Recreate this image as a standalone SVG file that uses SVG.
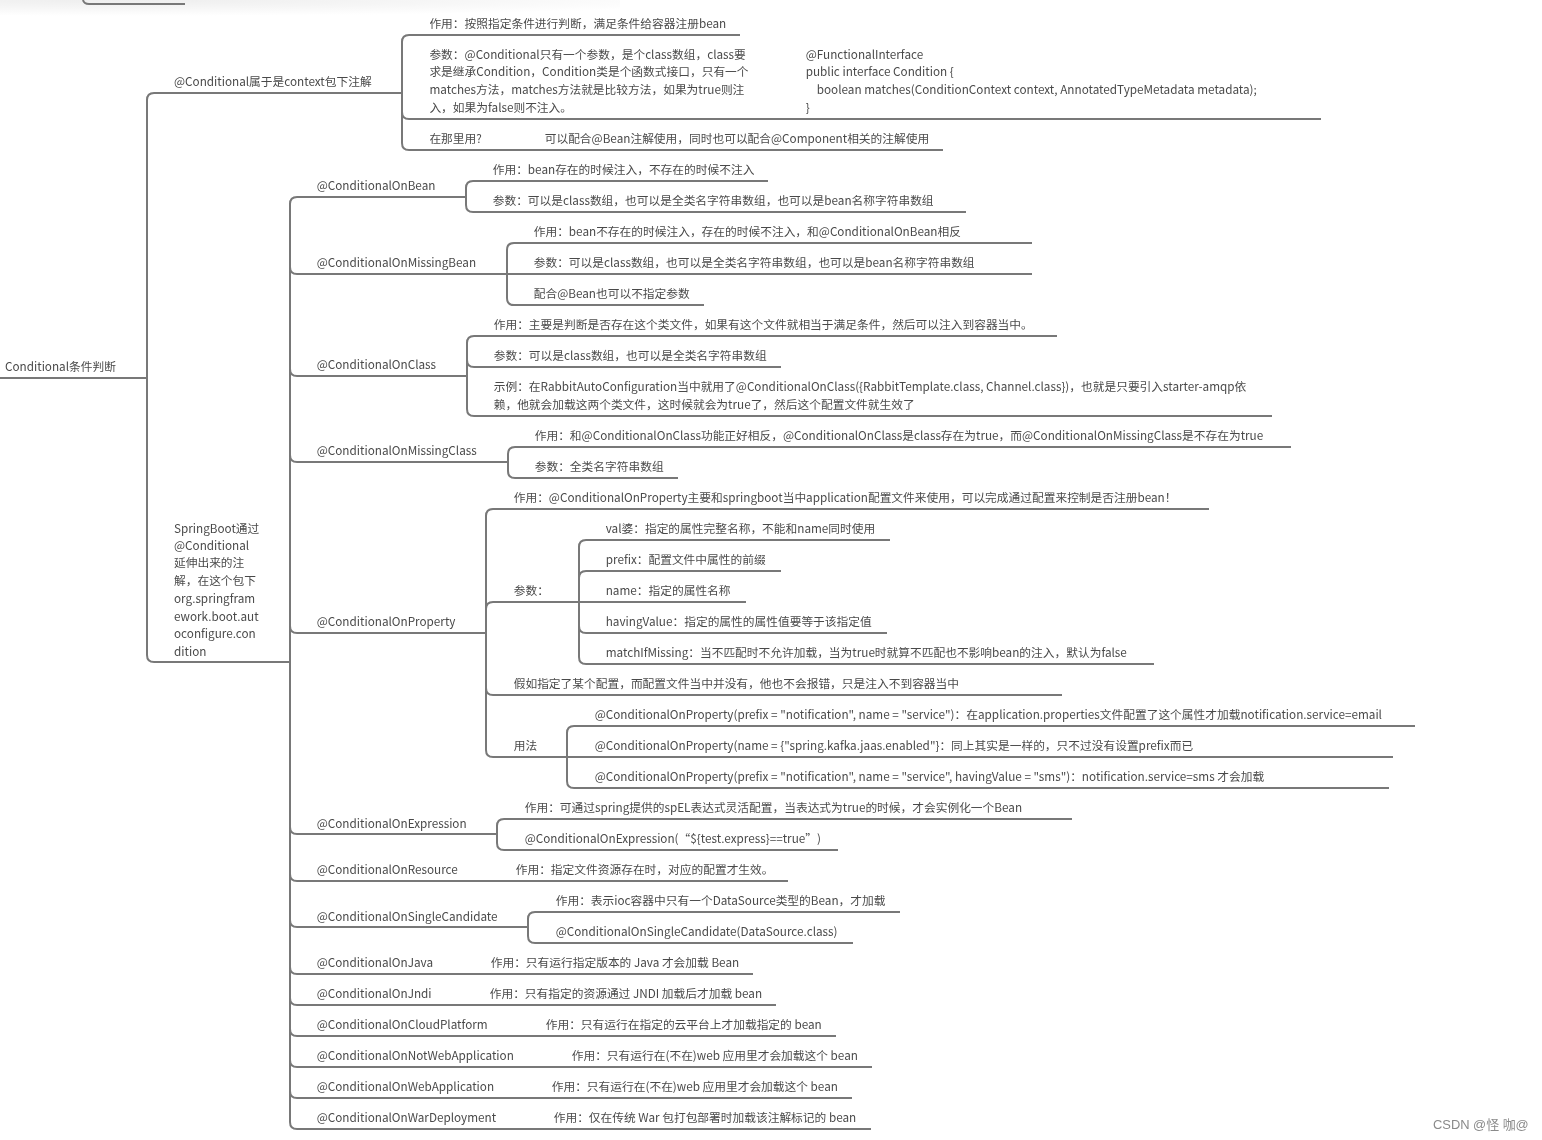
<svg xmlns="http://www.w3.org/2000/svg" width="1542" height="1140" viewBox="0 0 1542 1140">
<defs>
<style>
text{font-family:"Noto Sans CJK SC","Noto Sans",sans-serif;font-size:11.73px;fill:#4a4a4a;text-spacing-trim:space-all;}
.c path{fill:none;stroke:#787878;stroke-width:2;}
.w{font-family:"Liberation Sans","Noto Sans CJK SC",sans-serif;fill:#8a8a8a;font-size:12.9px;}
</style>
<filter id="soft" x="0" y="0" width="1" height="1" filterUnits="objectBoundingBox"><feGaussianBlur stdDeviation="0.32"/></filter>
<radialGradient id="sh" cx="0.2" cy="0" r="1" gradientUnits="objectBoundingBox">
<stop offset="0" stop-color="#eeeeee"/><stop offset="0.5" stop-color="#f6f6f6"/><stop offset="1" stop-color="#ffffff"/>
</radialGradient>
</defs>
<rect width="1542" height="1140" fill="#fff"/>
<rect id="topshade" width="620" height="16" fill="url(#sh)"/>
<g filter="url(#soft)">
<rect x="0" y="0" width="1542" height="1140" fill="none"/>
<g id="connectors" class="c">
<path d="M83 0Q84 4 89 4H185"/>
<path d="M0 378H147"/>
<path d="M402 93H154Q147 93 147 100V655Q147 662 154 662H290"/>
<path d="M740 35H409Q402 35 402 42V143Q402 150 409 150H943"/>
<path d="M402 112Q402 119 409 119H1321"/>
<path d="M466 197H297Q290 197 290 204V1122Q290 1129 297 1129H871"/>
<path d="M290 267Q290 274 297 274H1032"/>
<path d="M290 369Q290 376 297 376H467"/>
<path d="M290 455Q290 462 297 462H508"/>
<path d="M290 626Q290 633 297 633H486"/>
<path d="M290 827Q290 834 297 834H497"/>
<path d="M290 874Q290 881 297 881H788"/>
<path d="M290 920Q290 927 297 927H528"/>
<path d="M290 967Q290 974 297 974H753"/>
<path d="M290 998Q290 1005 297 1005H776"/>
<path d="M290 1029Q290 1036 297 1036H836"/>
<path d="M290 1060Q290 1067 297 1067H872"/>
<path d="M290 1091Q290 1098 297 1098H852"/>
<path d="M768 181H473Q466 181 466 188V205Q466 212 473 212H966"/>
<path d="M1032 243H514Q507 243 507 250V298Q507 305 514 305H704"/>
<path d="M1057 336H474Q467 336 467 343V409Q467 416 474 416H1272"/>
<path d="M467 360Q467 367 474 367H781"/>
<path d="M1291 447H515Q508 447 508 454V471Q508 478 515 478H678"/>
<path d="M1209 509H493Q486 509 486 516V750Q486 757 493 757H567"/>
<path d="M486 609Q486 602 493 602H746"/>
<path d="M486 688Q486 695 493 695H1062"/>
<path d="M890 540H586Q579 540 579 547V657Q579 664 586 664H1154"/>
<path d="M781 571H586Q579 571 579 578"/>
<path d="M579 626Q579 633 586 633H887"/>
<path d="M1415 726H574Q567 726 567 733V781Q567 788 574 788H1389"/>
<path d="M567 757H1393"/>
<path d="M1072 819H504Q497 819 497 826V843Q497 850 504 850H838"/>
<path d="M900 912H535Q528 912 528 919V936Q528 943 535 943H853"/>
</g>
<g id="nodes" transform="translate(-0.3 0)">
<g id="root"><text x="5.300" y="371">Conditional条件判断</text></g>
<g id="n-context"><text x="174.300" y="86">@Conditional属于是context包下注解</text></g>
<g id="n-springboot">
<text x="174.300" y="533">SpringBoot通过</text><text x="174.300" y="550">@Conditional</text><text x="174.300" y="567">延伸出来的注</text><text x="174.300" y="585">解，在这个包下</text><text x="174.300" y="603">org.springfram</text><text x="174.300" y="621">ework.boot.aut</text><text x="174.300" y="638">oconfigure.con</text><text x="174.300" y="656">dition</text>
</g>
<g id="n-ctx1"><text x="429.700" y="28">作用：按照指定条件进行判断，满足条件给容器注册bean</text></g>
<g id="n-ctx2">
<text x="429.700" y="59">参数：@Conditional只有一个参数，是个class数组，class要</text>
<text x="429.700" y="76">求是继承Condition，Condition类是个函数式接口，只有一个</text>
<text x="429.700" y="94">matches方法，matches方法就是比较方法，如果为true则注</text>
<text x="429.700" y="112">入，如果为false则不注入。</text>
</g>
<g id="n-ctx2b">
<text x="806" y="59">@FunctionalInterface</text>
<text x="806" y="76">public interface Condition {</text>
<text x="817" y="94">boolean matches(ConditionContext context, AnnotatedTypeMetadata metadata);</text>
<text x="806" y="112">}</text>
</g>
<g id="n-ctx3"><text x="429.700" y="143">在那里用?</text></g>
<g id="n-ctx3b"><text x="545" y="143">可以配合@Bean注解使用，同时也可以配合@Component相关的注解使用</text></g>
<g id="n-onbean"><text x="317" y="190">@ConditionalOnBean</text></g>
<g id="n-onbean1"><text x="493" y="174">作用：bean存在的时候注入，不存在的时候不注入</text></g>
<g id="n-onbean2"><text x="493" y="205">参数：可以是class数组，也可以是全类名字符串数组，也可以是bean名称字符串数组</text></g>
<g id="n-missingbean"><text x="317" y="267">@ConditionalOnMissingBean</text></g>
<g id="n-missingbean1"><text x="534" y="236">作用：bean不存在的时候注入，存在的时候不注入，和@ConditionalOnBean相反</text></g>
<g id="n-missingbean2"><text x="534" y="267">参数：可以是class数组，也可以是全类名字符串数组，也可以是bean名称字符串数组</text></g>
<g id="n-missingbean3"><text x="534" y="298">配合@Bean也可以不指定参数</text></g>
<g id="n-onclass"><text x="317" y="369">@ConditionalOnClass</text></g>
<g id="n-onclass1"><text x="494" y="329">作用：主要是判断是否存在这个类文件，如果有这个文件就相当于满足条件，然后可以注入到容器当中。</text></g>
<g id="n-onclass2"><text x="494" y="360">参数：可以是class数组，也可以是全类名字符串数组</text></g>
<g id="n-onclass3">
<text x="494" y="391">示例：在RabbitAutoConfiguration当中就用了@ConditionalOnClass({RabbitTemplate.class, Channel.class})，也就是只要引入starter-amqp依</text>
<text x="494" y="409">赖，他就会加载这两个类文件，这时候就会为true了，然后这个配置文件就生效了</text>
</g>
<g id="n-missingclass"><text x="317" y="455">@ConditionalOnMissingClass</text></g>
<g id="n-missingclass1"><text x="535" y="440">作用：和@ConditionalOnClass功能正好相反，@ConditionalOnClass是class存在为true，而@ConditionalOnMissingClass是不存在为true</text></g>
<g id="n-missingclass2"><text x="535" y="471">参数：全类名字符串数组</text></g>
<g id="n-property"><text x="317" y="626">@ConditionalOnProperty</text></g>
<g id="n-property1"><text x="514" y="502">作用：@ConditionalOnProperty主要和springboot当中application配置文件来使用，可以完成通过配置来控制是否注册bean！</text></g>
<g id="n-property2"><text x="514" y="595">参数：</text></g>
<g id="n-param1"><text x="606" y="533">val婆：指定的属性完整名称，不能和name同时使用</text></g>
<g id="n-param2"><text x="606" y="564">prefix：配置文件中属性的前缀</text></g>
<g id="n-param3"><text x="606" y="595">name：指定的属性名称</text></g>
<g id="n-param4"><text x="606" y="626">havingValue：指定的属性的属性值要等于该指定值</text></g>
<g id="n-param5"><text x="606" y="657">matchIfMissing：当不匹配时不允许加载，当为true时就算不匹配也不影响bean的注入，默认为false</text></g>
<g id="n-property3"><text x="514" y="688">假如指定了某个配置，而配置文件当中并没有，他也不会报错，只是注入不到容器当中</text></g>
<g id="n-property4"><text x="514" y="750">用法</text></g>
<g id="n-usage1"><text x="595" y="719">@ConditionalOnProperty(prefix = "notification", name = "service")：在application.properties文件配置了这个属性才加载notification.service=email</text></g>
<g id="n-usage2"><text x="595" y="750">@ConditionalOnProperty(name = {"spring.kafka.jaas.enabled"}：同上其实是一样的，只不过没有设置prefix而已</text></g>
<g id="n-usage3"><text x="595" y="781">@ConditionalOnProperty(prefix = "notification", name = "service", havingValue = "sms")：notification.service=sms 才会加载</text></g>
<g id="n-expression"><text x="317" y="828">@ConditionalOnExpression</text></g>
<g id="n-expression1"><text x="525" y="812">作用：可通过spring提供的spEL表达式灵活配置，当表达式为true的时候，才会实例化一个Bean</text></g>
<g id="n-expression2"><text x="525" y="843">@ConditionalOnExpression(“${test.express}==true”)</text></g>
<g id="n-resource"><text x="317" y="874">@ConditionalOnResource</text></g>
<g id="n-resource1"><text x="516" y="874">作用：指定文件资源存在时，对应的配置才生效。</text></g>
<g id="n-single"><text x="317" y="921">@ConditionalOnSingleCandidate</text></g>
<g id="n-single1"><text x="556" y="905">作用：表示ioc容器中只有一个DataSource类型的Bean，才加载</text></g>
<g id="n-single2"><text x="556" y="936">@ConditionalOnSingleCandidate(DataSource.class)</text></g>
<g id="n-java"><text x="317" y="967">@ConditionalOnJava</text><text x="491" y="967">作用：只有运行指定版本的 Java 才会加载 Bean</text></g>
<g id="n-jndi"><text x="317" y="998">@ConditionalOnJndi</text><text x="490" y="998">作用：只有指定的资源通过 JNDI 加载后才加载 bean</text></g>
<g id="n-cloud"><text x="317" y="1029">@ConditionalOnCloudPlatform</text><text x="546" y="1029">作用：只有运行在指定的云平台上才加载指定的 bean</text></g>
<g id="n-notweb"><text x="317" y="1060">@ConditionalOnNotWebApplication</text><text x="572" y="1060">作用：只有运行在(不在)web 应用里才会加载这个 bean</text></g>
<g id="n-web"><text x="317" y="1091">@ConditionalOnWebApplication</text><text x="552" y="1091">作用：只有运行在(不在)web 应用里才会加载这个 bean</text></g>
<g id="n-war"><text x="317" y="1122">@ConditionalOnWarDeployment</text><text x="554" y="1122">作用：仅在传统 War 包打包部署时加载该注解标记的 bean</text></g>
</g>
<g id="watermark"><text class="w" x="1433" y="1129">CSDN @怪 咖@</text></g>
</g>
</svg>
